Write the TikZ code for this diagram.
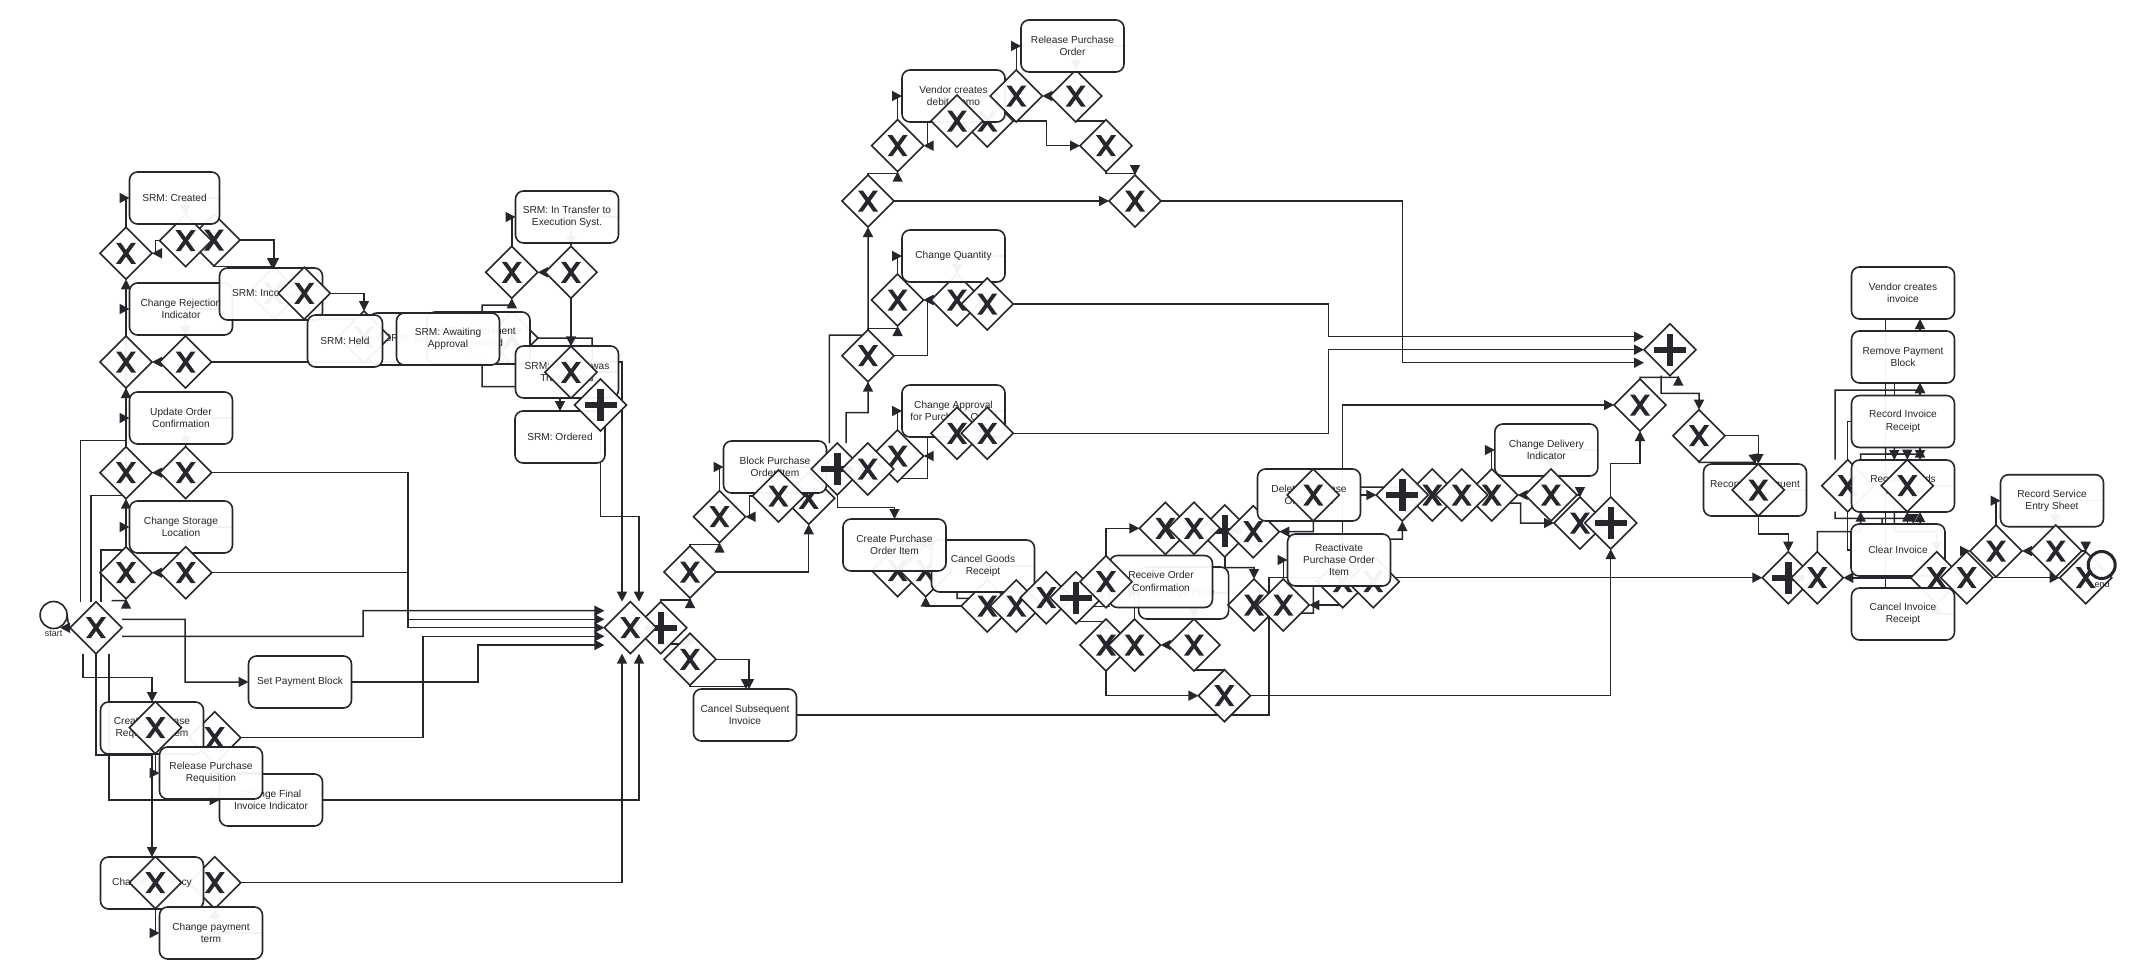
\documentclass[tikz,border=0pt]{standalone}
\usepackage{fontspec}
\setmainfont{Liberation Sans}
\usetikzlibrary{shapes.geometric,arrows.meta,calc}
\pgfdeclarelayer{back}
\pgfsetlayers{back,main}
\definecolor{ink}{RGB}{38,38,44}
\tikzset{
  flow/.style={draw=ink,line width=1.5bp,-{Triangle[length=10bp,width=10bp]}},
  plainline/.style={draw=ink,line width=1.5bp},
  thickflow/.style={flow,line width=2.4bp},
  taskbox/.style={draw=ink,line width=1.6bp,fill=white,fill opacity=.95,text opacity=1,rounded corners=8bp,minimum width=103bp,minimum height=52bp,inner sep=0pt,outer sep=0pt,align=center,text=ink,font=\fontsize{10.2}{12.4}\selectfont},
  gwbase/.style={diamond,draw=ink,line width=1.6bp,fill=white,fill opacity=.95,minimum width=52bp,minimum height=52bp,inner sep=0pt,outer sep=0pt,aspect=1},
  xgw/.style={gwbase,path picture={
    \begin{scope}[shift={(path picture bounding box.center)}]
      \fill[ink,fill opacity=1] (-10,-10.5) -- (-5.2,-10.5) -- (10,10.5) -- (5.2,10.5) -- cycle;
      \fill[ink,fill opacity=1] (10,-10.5) -- (5.2,-10.5) -- (-10,10.5) -- (-5.2,10.5) -- cycle;
    \end{scope}}},
  pgw/.style={gwbase,path picture={
    \begin{scope}[shift={(path picture bounding box.center)}]
      \fill[ink,fill opacity=1] (-16,-3.2) rectangle (16,3.2);
      \fill[ink,fill opacity=1] (-3.2,-16) rectangle (3.2,16);
    \end{scope}}},
  evt/.style={circle,draw=ink,line width=1.6bp,fill=white,fill opacity=.95,minimum size=27bp,inner sep=0pt,outer sep=0pt},
  evtlabel/.style={text=ink,inner sep=0pt,font=\fontsize{9}{10}\selectfont}
}
\begin{document}
\begin{tikzpicture}[x=1bp,y=-1bp]
\useasboundingbox (0,0) rectangle (2147,967);
% --- left column
\node[xgw] (d3) at (214,240) {};
\node[xgw] (d2) at (185.6,240.7) {};
\node[taskbox,minimum width=90bp] (created) at (174.5,198) {SRM: Created};
\node[xgw] (d1) at (126,253.3) {};
\node[taskbox] (rej) at (181,309) {Change Rejection\\Indicator};
\node[xgw] (d4) at (126,362) {};
\node[xgw] (d5) at (185.6,362) {};
\node[taskbox] (upd) at (181,418) {Update Order\\Confirmation};
\node[xgw] (d6) at (126,472.7) {};
\node[xgw] (d7) at (185.6,472.7) {};
\node[taskbox] (sto) at (181,527) {Change Storage\\Location};
\node[xgw] (d8) at (126,572.7) {};
\node[xgw] (d9) at (185.7,572.7) {};
\node[xgw] (d274) at (274,293.3) {};
\node[taskbox] (inc) at (271,294) {SRM: Incomplete};
\node[xgw] (d304) at (304.3,293.3) {};
\node[taskbox] (cmp) at (420.5,339) {SRM: Complete};
\node[xgw] (d364) at (364,337) {};
\node[taskbox,minimum width=75bp] (held) at (345,341) {SRM: Held};
\node[xgw] (d512) at (512,338) {};
\node[taskbox] (doc) at (478.5,338) {SRM: Document\\Completed};
\node[taskbox] (aw) at (448,339) {SRM: Awaiting\\Approval};
\node[xgw] (d511) at (511.8,272.3) {};
\node[xgw] (d571) at (571,272.3) {};
\node[taskbox] (itr) at (567,217) {SRM: In Transfer to\\Execution Syst.};
\node[taskbox] (chg) at (567,372) {SRM: Change was\\Transmitted};
\node[taskbox,minimum width=90bp] (ord) at (560,437) {SRM: Ordered};
\node[xgw] (d571b) at (571,372.3) {};
\node[pgw] (p600) at (600.6,405) {};
% --- start and lower left
\node[evt] (start) at (53.6,615) {};
\node[evtlabel] (startlbl) at (53.6,634) {start};
\node[xgw] (d10) at (96,627.7) {};
\node[pgw] (p660) at (660.7,627.7) {};
\node[xgw] (merge) at (630.4,627.7) {};
\node[taskbox] (pay) at (300,682) {Set Payment Block};
\node[xgw] (d214) at (214.7,737.7) {};
\node[taskbox] (creq) at (152,728) {Create Purchase\\Requisition Item};
\node[xgw] (d155) at (155.4,727.7) {};
\node[taskbox] (fin) at (271,800) {Change Final\\Invoice Indicator};
\node[taskbox] (rel) at (211,773) {Release Purchase\\Requisition};
\node[xgw] (d214b) at (214.7,882.7) {};
\node[taskbox] (cur) at (152,883) {Change Currency};
\node[xgw] (d155b) at (155.4,882.7) {};
\node[taskbox] (term) at (211,933) {Change payment\\term};
% --- branch to the right of the merge
\node[xgw] (d690a) at (690,572) {};
\node[xgw] (d690b) at (690,659.3) {};
\node[xgw] (d719) at (719.5,516.7) {};
\node[xgw] (d808) at (808.7,498.3) {};
\node[taskbox] (block) at (775,467) {Block Purchase\\Order Item};
\node[xgw] (d778) at (778.4,496) {};
\node[xgw] (d897a) at (897.6,456) {};
\node[pgw] (p837) at (837.3,469) {};
\node[xgw] (d867) at (867.7,469) {};
\node[taskbox] (apr) at (953.5,411) {Change Approval\\for Purchase Order};
\node[xgw] (d957a) at (957,433.3) {};
\node[xgw] (d987a) at (987.3,433.3) {};
\node[taskbox] (cansub) at (745,715) {Cancel Subsequent\\Invoice};
\node[xgw] (d868a) at (868,201) {};
\node[xgw] (d868b) at (868,355.7) {};
\node[xgw] (d897q) at (897.6,300) {};
\node[xgw] (d957q) at (957,300) {};
\node[taskbox] (qty) at (953.5,256) {Change Quantity};
\node[xgw] (d987q) at (987.3,304) {};
\node[xgw] (d897t) at (897.6,145.7) {};
\node[xgw] (d987t) at (987.3,121) {};
\node[taskbox] (deb) at (953.5,96) {Vendor creates\\debit memo};
\node[xgw] (d957t) at (957,121) {};
\node[xgw] (d1016) at (1016.3,96) {};
\node[xgw] (d1075) at (1075.7,96) {};
\node[taskbox] (relpo) at (1072.5,46) {Release Purchase\\Order};
\node[xgw] (d1106) at (1106,145.7) {};
\node[xgw] (d1135) at (1135,201) {};
% --- lower middle
\node[xgw] (d897c) at (897.6,570.7) {};
\node[xgw] (d925) at (925.7,570.7) {};
\node[xgw] (d987) at (987.3,606) {};
\node[taskbox] (cgr) at (983,566) {Cancel Goods\\Receipt};
\node[taskbox] (cpo) at (894.5,545) {Create Purchase\\Order Item};
\node[xgw] (d1016b) at (1016.3,606) {};
\node[xgw] (d1046) at (1046.3,597.7) {};
\node[pgw] (p1076) at (1076,597.7) {};
\node[taskbox,minimum width=90bp] (prc) at (1183.6,593) {Change Price};
\node[taskbox] (rcv) at (1161,581.5) {Receive Order\\Confirmation};
\node[xgw] (d1106a) at (1106,581.7) {};
\node[pgw] (p1224) at (1224.8,531) {};
\node[xgw] (d1165) at (1165.4,528.3) {};
\node[xgw] (d1194) at (1194,528.3) {};
\node[xgw] (d1254a) at (1253.3,531.7) {};
\node[xgw] (d1106b) at (1106,645) {};
\node[xgw] (d1134) at (1134.6,645) {};
\node[xgw] (d1194b) at (1194,645) {};
\node[xgw] (d1224b) at (1224.4,695.7) {};
\node[taskbox] (del) at (1309,495) {Delete Purchase\\Order Item};
\node[xgw] (d1313) at (1313.3,495) {};
\node[xgw] (d1342) at (1342.7,581.7) {};
\node[xgw] (d1373) at (1373.3,581.7) {};
\node[taskbox] (rea) at (1339,560) {Reactivate\\Purchase Order\\Item};
\node[xgw] (d1254b) at (1254,605) {};
\node[xgw] (d1283) at (1283.3,605) {};
\node[xgw] (d1432) at (1432.3,495) {};
\node[pgw] (p1402) at (1402.3,495) {};
\node[xgw] (d1491) at (1491.7,495) {};
\node[xgw] (d1461) at (1461.7,495) {};
\node[taskbox] (dlv) at (1546.3,450) {Change Delivery\\Indicator};
\node[xgw] (d1551) at (1551,495) {};
\node[xgw] (d1580) at (1580,523) {};
\node[pgw] (p1610) at (1610.7,523) {};
\node[xgw] (d1640) at (1640,405) {};
\node[pgw] (pm) at (1670,349.7) {};
\node[xgw] (d1699) at (1699,435.7) {};
\node[taskbox] (rsi) at (1755,490) {Record Subsequent\\Invoice};
\node[xgw] (d1758) at (1758.3,490) {};
\node[pgw] (pg) at (1788.3,577.7) {};
\node[xgw] (d1817) at (1817.3,577.7) {};
% --- right stack
\node[taskbox] (vnd) at (1903,293) {Vendor creates\\invoice};
\node[taskbox] (rem) at (1903,357) {Remove Payment\\Block};
\node[taskbox] (rip) at (1903,421.5) {Record Invoice\\Receipt};
\node[xgw] (d1847) at (1847.7,485.7) {};
\node[taskbox] (grc) at (1903,486) {Record Goods\\Receipt};
\node[xgw] (d1907) at (1907.3,485.7) {};
\node[taskbox,minimum width=94bp] (clr) at (1898,550) {Clear Invoice};
\node[xgw] (d1937) at (1936.7,577.7) {};
\node[taskbox] (can) at (1903,614) {Cancel Invoice\\Receipt};
\node[xgw] (d1966) at (1966.7,577.7) {};
\node[xgw] (d1996) at (1996,551) {};
\node[taskbox] (srv) at (2052,500.7) {Record Service\\Entry Sheet};
\node[xgw] (d2055) at (2055.7,551) {};
\node[xgw] (d2085) at (2085.7,577.7) {};
\node[evt,line width=3bp] (endc) at (2101.7,565) {};
\node[evtlabel] (endlbl) at (2102,584) {end};

\begin{pgfonlayer}{back}
% left column
\draw[flow] (d1.north) |- (created.west);
\draw[flow] (d4.north) |- (rej.west);
\draw[flow] (d6.north) |- (upd.west);
\draw[flow] (d8.north) |- (sto.west);
\draw[flow] (created.east) -| (d2.north);
\draw[flow] (rej.east) -| (d5.north);
\draw[flow] (upd.east) -| (d7.north);
\draw[flow] (sto.east) -| (d9.north);
\draw[flow] (d5.west) -- (d4.east);
\draw[flow] (d7.west) -- (d6.east);
\draw[flow] (d9.west) -- (d8.east);
\draw[flow] (d2.west) -- (155.6,240.7) -- (155.6,253.3) -- (d1.east);
\draw[flow] (start.east) -- (69,627.7) -- (60,627.7);
\draw[flow] ([xshift=-15.6bp]d10.north) |- (126,440.7) -- (d1.south);
\draw[flow] ([xshift=-5bp]d10.north) |- (126,495.7) -- (d4.south);
\draw[flow] ([xshift=5bp]d10.north) |- (126,550) -- (d6.south);
\draw[flow] ([xshift=15.6bp,yshift=1bp]d10.north) -- (126,600.7) -- (d8.south);
\draw[flow] ([yshift=8.4bp]d10.east) -- (185,619.3) |- (pay.west);
\draw[flow] ([yshift=-8.6bp]d10.east) -- (363,636.3) |- ([yshift=17bp]merge.west);
\draw[flow] (d7.east) -- (408,472.7) |- ([yshift=8.4bp]merge.west);
\draw[flow] (d9.east) -- (408,572.7) |- (merge.west);
\draw[flow] (d214.east) -- (423,737.7) |- ([yshift=-8.6bp]merge.west);
\draw[flow] (pay.east) -- (478,682) |- ([yshift=-17.3bp]merge.west);
\draw[flow] ([xshift=-13bp]d10.south) |- (152,677.7) -- (creq.north);
\draw[flow] (d10.south) |- (152,755) -- (cur.north);
\draw[flow] ([xshift=13bp]d10.south) |- (fin.west);
\draw[flow] (d155.south) |- (rel.west);
\draw[flow] (d155b.south) |- (term.west);
\draw[flow] (rel.east) -| (d214.south);
\draw[flow] (term.east) -| (d214b.south);
\draw[flow] (fin.east) -| ([xshift=8.6bp]merge.south);
\draw[flow] (d214b.east) -| ([xshift=-8.4bp]merge.south);
\draw[flow] (d5.east) -| ([xshift=-8.4bp]merge.north);
\draw[flow] (p600.south) -- (600.6,516.7) -| ([xshift=8.6bp]merge.north);
% upper left
\draw[flow] (d3.east) -| ([xshift=3bp]inc.north);
\draw[flow] (d3.south) -- (214,266.7) -- (272,266.7) -- ([xshift=1bp]inc.north);
\draw[flow] (inc.east) -| (d274.north);
\draw[flow] (d304.east) -| (d364.north);
\draw[plainline] (d304.south) -- (304.3,319) -- (362,319);
\draw[flow] (d512.east) -- (592,338) -- (592,379) -- (p600.north);
\draw[flow] ([yshift=-14.7bp]chg.west) -- (482,386.7) -- (482,305) -- (511.8,305) -- (d511.south);
\draw[flow] (d511.north) |- (itr.west);
\draw[flow] (d571.west) -- (d511.east);
\draw[flow] (itr.east) -| (d571.north);
\draw[flow] (d571.south) -- (d571b.north);
\draw[flow] (d571b.south) -- (571,398) -- (560,398) -- (ord.north);
\draw[flow] (chg.east) -| (d571b.north);
% middle
\draw[flow] (p660.north) -- (660.7,600) -- (690,600) -- (d690a.south);
\draw[flow] (p660.center) |- (690,644) -- (d690b.north);
\draw[flow] (d690a.east) -| (d808.south);
\draw[flow] (d690a.north) -- (690,544.3) -- (719.5,544.3) -- (d719.south);
\draw[flow] (d719.north) |- (block.west);
\draw[flow] (d778.west) -- (749.4,496) -- (749.4,516.7) -- (d719.east);
\draw[flow] (block.east) -| (d778.north);
\draw[flow] (d690b.east) -| ([xshift=4bp]cansub.north);
\draw[flow] (d690b.south) -- (690,686.7) -- (746,686.7) -- ([xshift=1bp]cansub.north);
\draw[flow] (cansub.east) -| (1269,577.7) -- (pg.west);
\draw[flow] (p837.south) -- (837.3,507.7) -- (894.5,507.7) -- (cpo.north);
\draw[flow] ([xshift=-8bp]p837.north) -- (829.3,335) -- (868,335) -- (d868a.south);
\draw[flow] ([xshift=8.7bp]p837.north) -- (846,412.7) -- (868,412.7) -- (d868b.south);
\draw[flow] (d868b.east) -- (927.5,355.7) -- (927.5,300) -- (d897q.east);
\draw[flow] (d868b.north) -- (868,328.3) -- (897.6,328.3) -- (d897q.south);
\draw[flow] (d897q.north) |- (qty.west);
\draw[flow] (d957q.west) -- (d897q.east);
\draw[flow] (qty.east) -| (d957q.north);
\draw[flow] (d868a.east) -- (d1135.west);
\draw[flow] (d868a.north) -- (868,173.3) -- (897.6,173.3) -- (d897t.south);
\draw[flow] (d897t.north) |- (deb.west);
\draw[flow] (d957t.west) -- (927.5,121) -- (927.5,145.7) -- (d897t.east);
\draw[flow] (deb.east) -| (d957t.north);
\draw[flow] (d987t.east) -- (1046.7,121) -- (1046.7,145.7) -- (d1106.west);
\draw[flow] (d1016.north) |- (relpo.west);
\draw[flow] (d1075.west) -- (d1016.east);
\draw[flow] (relpo.east) -| (d1075.north);
\draw[plainline] (d1075.south) -- (1075.7,121) -- (1106,121);
\draw[flow] (d1106.south) -- (1106,173.3) -- (1135,173.3) -- (d1135.north);
\draw[flow] (d1135.east) -- (1402.3,201) |- ([yshift=-13bp]pm.west);
\draw[flow] (d987q.east) -- (1328.4,304) |- ([yshift=13bp]pm.west);
\draw[flow] (d987a.east) -- (1328.4,433.3) |- (pm.west);
\draw[flow] (d957a.west) -- (927.5,433.3) -- (927.5,456) -- (d897a.east);
\draw[plainline] (901,478.3) -- (927.5,478.3) -- (927.5,456);
\draw[flow] (d897a.north) |- (apr.west);
\draw[flow] (apr.east) -| (d957a.north);
\draw[flow] (p837.east) -- (d867.west);
% lower middle
\draw[flow] (d987.west) -- (925.7,606) -- (d925.south);
\draw[flow] (cpo.east) -| (d897c.north);
\draw[flow] (cgr.east) -| (d987.north);
\draw[plainline] ([xshift=-26bp]cgr.south) -- (957,598.3) -- (987,598.3);
\draw[flow] (d1106a.north) |- (d1165.west);
\draw[plainline] (1085,606.7) -- (1110,606.7);
\draw[flow] (p1076.south) -- (1076,621.7) -- (1106,621.7) -- (d1106b.north);
\draw[flow] (d1106b.south) |- (d1224b.west);
\draw[flow] (d1194b.west) -- (d1134.east);
\draw[flow] (d1194b.south) -- (1194,670) -- (1224.4,670) -- (d1224b.north);
\draw[flow] (d1134.north) -- (1134.6,593) -- (prc.west);
\draw[flow] (prc.east) -| (d1194b.north);
\draw[flow] (d1224b.east) -| (p1610.south);
\draw[flow] ([yshift=14bp]rcv.east) -- (1254,567.7) -- (d1254b.north);
\draw[plainline] (p1224.south) -- (1224.8,567.7);
\draw[flow] (d1283.north) |- (rea.west);
\draw[flow] ([xshift=4.3bp]del.south) -- (1313.3,531.7) -- (d1254a.east);
\draw[plainline] (1288,536) -- (1313.3,536);
\draw[flow] (del.east) -- (p1402.west);
\draw[plainline] ([yshift=8bp]del.east) -- (1402,487);
\draw[flow] ([yshift=21bp]rea.east) -- (1402.3,539) -- (p1402.south);
\draw[flow] (d1342.north) |- (d1640.west);
\draw[flow] (d1342.south) -- (1342.7,605) -- (d1283.east);
\draw[plainline] ([xshift=-25.7bp]rea.south) -- (1313.3,613) -- (1293,613);
\draw[flow] (d1491.north) |- (dlv.west);
\draw[flow] (d1551.west) -- (d1491.east);
\draw[flow] (dlv.east) -| (d1551.north);
\draw[flow] ([xshift=-8bp,yshift=-8bp]d1491.east) -- (1520.7,503) |- (d1580.west);
\draw[flow] (d1551.east) -- (1580,495) -- (d1580.north);
\draw[flow] (p1610.north) -- (1610.7,463.3) -- (1640,463.3) -- (d1640.south);
\draw[flow] (d1640.north) -- (1640,377.3) -- (1678.3,377.3) -- ([xshift=8.3bp]pm.south);
\draw[flow] ([xshift=-9bp]pm.south) -- (1661,393.3) -- (1699,393.3) -- (d1699.north);
\draw[flow] (d1699.east) -| (d1758.north);
\draw[flow] (d1699.south) -- (1699,462.3) -- (1755,462.3) -- ([xshift=-3bp]d1758.north);
\draw[flow] (rsi.east) -| (d1758.north);
\draw[flow] (d1758.south) -- (1758.3,534) -- (1788.3,534) -- (pg.north);
\draw[flow] (d1817.north) -- (1817.3,531.7) -- (1860.7,531.7) -- ([xshift=13bp]d1847.south);
\draw[thickflow] (d1937.west) -- (d1817.east);
\draw[flow] (pg.east) -- (d1817.west);
% right stack
\draw[plainline] ([xshift=-17.3bp]vnd.south) -- ([xshift=-17.3bp]can.north);
\draw[flow] ([xshift=17bp]rem.north) -- ([xshift=17bp]vnd.south);
\draw[flow] ([xshift=17bp]rip.north) -- ([xshift=17bp]rem.south);
\draw[plainline] ([xshift=-8.7bp]rem.south) -- ([xshift=-8.7bp]rip.north);
\draw[flow] ([xshift=-12.7bp]d1847.north) -- (1835,390) -- (1920,390) -- ([xshift=17bp]rem.south);
\draw[plainline] (d1847.north) |- (rip.west);
\draw[plainline] (d1847.south) |- (clr.west);
\draw[flow] ([xshift=-12.7bp]d1847.south) -- (1835,518.3) -- (1913.3,518.3) -- ([xshift=15.3bp]clr.north);
\draw[flow] ([xshift=-17.3bp]rip.south) -- (1885.7,454) -- (1907.3,454) -- (d1907.north);
\draw[flow] ([xshift=-42.3bp]grc.north) -- (1860.7,454) -- (1920,454) -- ([xshift=17bp]rip.south);
\draw[flow] ([xshift=-8.7bp]rip.south) -- ([xshift=-8.7bp]grc.north);
\draw[flow] ([xshift=17bp]rip.south) -- ([xshift=17bp]grc.north);
\draw[flow] (1907.3,524.7) -- (d1907.south);
\draw[flow] ([xshift=22bp]clr.north) -- ([xshift=17bp]grc.south);
\draw[plainline] ([xshift=-16bp]clr.north) -- (1882,518.3);
\draw[plainline] (grc.east) -- (d1907.east);
\draw[flow] ([xshift=-8.7bp]rip.south) -- (1894.3,531.7) -- (1936.7,531.7) -- (d1937.north);
\draw[flow] (can.east) -| (d1937.south);
\draw[flow] (d1966.north) -- (1966.7,551) -- (d1996.west);
\draw[flow] (d1996.north) |- (srv.west);
\draw[flow] (d2055.west) -- (d1996.east);
\draw[flow] (srv.east) -| (d2055.north);
\draw[flow] (d2055.east) -- (2085.7,551) -- (d2085.north);
\draw[flow] (d1966.east) -- (d2085.west);
\end{pgfonlayer}
\end{tikzpicture}
\end{document}
